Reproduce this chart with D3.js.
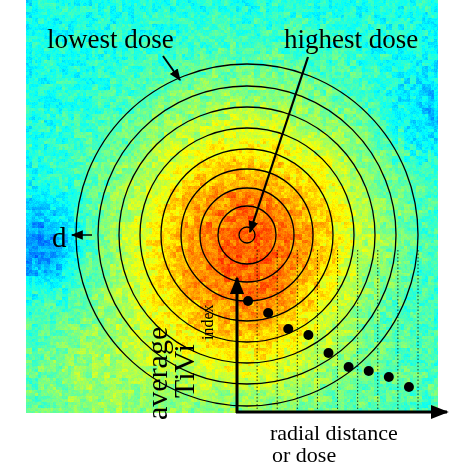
<!DOCTYPE html>
<html><head><meta charset="utf-8">
<script src="https://cdn.jsdelivr.net/npm/d3@7"></script>
<style>body{margin:0;background:#fff}#wrap{position:relative;width:474px;height:474px}canvas,svg{position:absolute;left:0;top:0}</style>
</head><body><div id="wrap"><canvas id="heat" width="474" height="474"></canvas><svg id="chart" width="474" height="474"></svg></div>
<script>
// ring radii in pixels-of-map units, sample positions and averaged index values
const ringRadii = [8, 29, 47, 66, 86, 107, 128, 149, 171]
const binEdges = [1, 2, 3, 4, 5, 6, 7, 8, 9]
const binCenters = [0.5, 1.5, 2.5, 3.5, 4.5, 5.5, 6.5, 7.5, 8.5]
const avgIndex = [5.6, 5.0, 4.2, 3.9, 3.0, 2.3, 2.1, 1.8, 1.3]

const svg = d3.select('#chart')
const map = {x0: 26, y0: 0, w: 412, h: 413}
const cx = 247, cy = 235

// jet colormap
const jet = t => {
  const c = v => Math.max(0, Math.min(1, v))
  return [c(1.5 - Math.abs(4 * t - 3)), c(1.5 - Math.abs(4 * t - 2)), c(1.5 - Math.abs(4 * t - 1))]
}
const hash = (i, j) => {
  let h = Math.sin(i * 127.1 + j * 311.7) * 43758.5453
  return h - Math.floor(h)
}
const ctx = document.getElementById('heat').getContext('2d')
const img = ctx.createImageData(map.w, map.h)
for (let j = 0; j < map.h; j++) {
  for (let i = 0; i < map.w; i++) {
    const x = i + map.x0, y = j + map.y0
    const g = Math.exp(-((x - cx) ** 2 + ((y - cy - 15) * 0.9) ** 2) / (2 * 92 * 92))
    let v = 0.39 + 0.4 * g
    v -= 0.16 * Math.exp(-((x - 40) ** 2 + (y - 245) ** 2) / (2 * 30 * 30))
    v -= 0.08 * Math.exp(-((x - 430) ** 2 + (y - 110) ** 2) / (2 * 30 * 30))
    v -= 0.04 * Math.exp(-((x - 360) ** 2 + (y - 300) ** 2) / (2 * 40 * 40))
    v += 0.1 * Math.exp(-((x - 80) ** 2 + (y - 400) ** 2) / (2 * 60 * 60))
    v += 0.04 * Math.exp(-((x - 420) ** 2 + (y - 410) ** 2) / (2 * 50 * 50))
    const n = (hash(Math.floor(i / 6), Math.floor(j / 6)) - 0.5) * 0.08 +
      (hash(Math.floor(i / 3), Math.floor(j / 3)) - 0.5) * 0.06 + (hash(i, j) - 0.5) * 0.04
    const col = jet(Math.max(0, Math.min(1, v + n)))
    const k = (j * map.w + i) * 4
    img.data[k] = col[0] * 255; img.data[k + 1] = col[1] * 255; img.data[k + 2] = col[2] * 255; img.data[k + 3] = 255
  }
}
ctx.putImageData(img, map.x0, map.y0)

const defs = svg.append('defs')
const mk = (id, s) => defs.append('marker').attr('id', id).attr('viewBox', '0 0 10 10').attr('refX', 9).attr('refY', 5)
  .attr('markerWidth', s).attr('markerHeight', s).attr('orient', 'auto').attr('markerUnits', 'userSpaceOnUse')
  .append('path').attr('d', 'M0,1L10,5L0,9z').attr('fill', '#000')
mk('ah', 12); mk('big', 18)

svg.selectAll('circle.ring').data(ringRadii).enter().append('circle')
  .attr('cx', cx).attr('cy', cy).attr('r', d => d)
  .attr('fill', 'none').attr('stroke', '#000').attr('stroke-width', 1.3)

// inset plot
const x = d3.scaleLinear().domain([0, 9]).range([237, 418])
const y = d3.scaleLinear().domain([0, 6.5]).range([413, 283])
svg.selectAll('line.bin').data(binEdges).enter().append('line')
  .attr('x1', d => x(d)).attr('x2', d => x(d)).attr('y1', 250).attr('y2', 413)
  .attr('stroke', '#000').attr('stroke-width', 0.8).attr('stroke-dasharray', '1.5,2')
svg.selectAll('circle.pt').data(avgIndex).enter().append('circle')
  .attr('cx', (d, i) => x(binCenters[i]) + 1).attr('cy', d => y(d)).attr('r', 5).attr('fill', '#000')
svg.append('line').attr('x1', 237).attr('y1', 413).attr('x2', 237).attr('y2', 278)
  .attr('stroke', '#000').attr('stroke-width', 3).attr('marker-end', 'url(#big)')
svg.append('line').attr('x1', 236).attr('y1', 412).attr('x2', 447).attr('y2', 412)
  .attr('stroke', '#000').attr('stroke-width', 3).attr('marker-end', 'url(#big)')

const arrow = (a, b, c, d, w) => svg.append('line').attr('x1', a).attr('y1', b).attr('x2', c).attr('y2', d)
  .attr('stroke', '#000').attr('stroke-width', w).attr('marker-end', 'url(#ah)')
arrow(163, 56, 180, 80, 2)
arrow(308, 57, 250, 232, 2.2)
arrow(92, 235, 72, 235, 1.5)

const txt = (s, tx, ty, size, rot) => svg.append('text').text(s).attr('font-family', 'Liberation Serif, serif')
  .attr('font-size', size).attr('fill', '#000')
  .attr('transform', `translate(${tx},${ty})` + (rot ? ` rotate(${rot})` : ''))
txt('lowest dose', 47, 48, 27)
txt('highest dose', 284, 48, 27)
txt('d', 52, 247, 29)
txt('average', 167, 420, 30, -90)
txt('TiVi', 194, 398, 30, -90)
txt('index', 213, 340, 16, -90)
txt('radial distance', 270, 440, 22)
txt('or dose', 272, 462, 22)
</script></body></html>
